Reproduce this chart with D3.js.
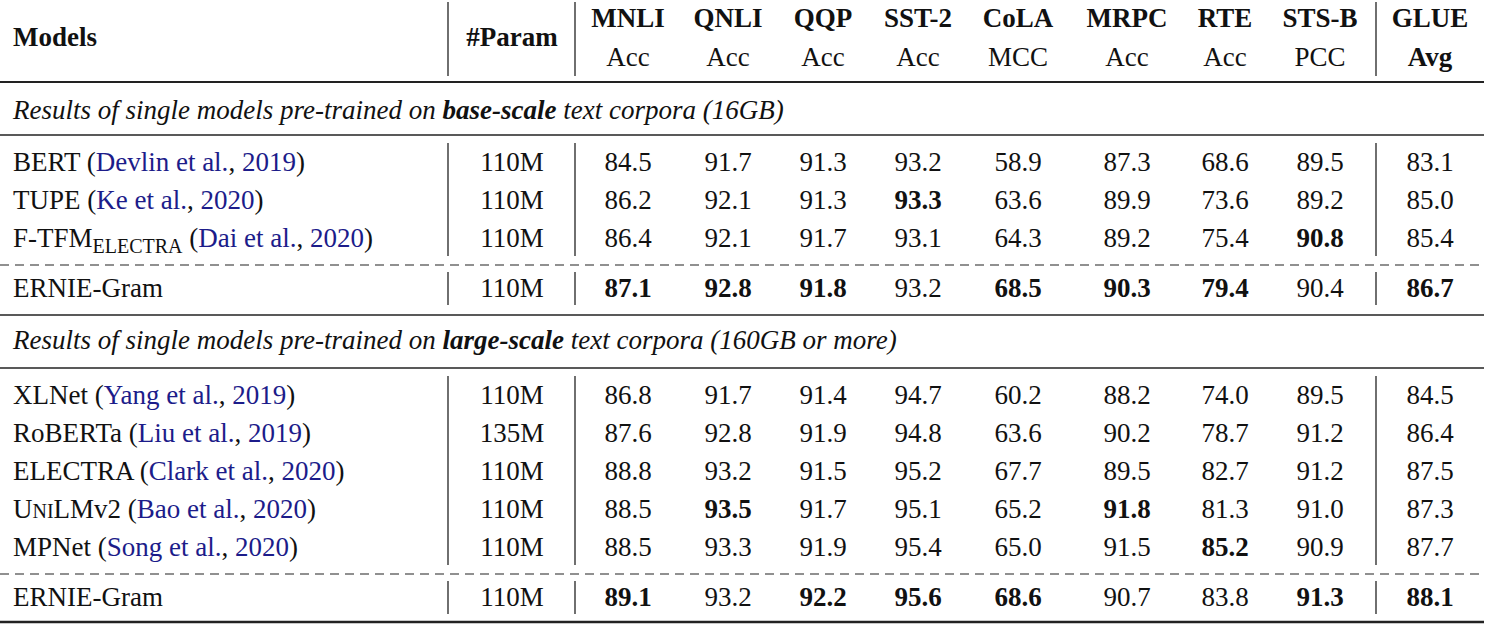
<!DOCTYPE html>
<html>
<head>
<meta charset="utf-8">
<script src="https://cdn.jsdelivr.net/npm/d3@7"></script>
<style>
  body { margin: 0; background: #fff; }
  svg, text, tspan { font-family: "Liberation Serif", "DejaVu Serif", serif; }
  text { font-size: 27px; fill: #111; }
</style>
</head>
<body>
<svg id="tbl" width="1488" height="627" font-family="Liberation Serif, DejaVu Serif, serif"></svg>
<script>
// column headers
const tasks = ["MNLI", "QNLI", "QQP", "SST-2", "CoLA", "MRPC", "RTE", "STS-B"];
const metrics = ["Acc", "Acc", "Acc", "Acc", "MCC", "Acc", "Acc", "PCC"];

// base-scale section
const baseModels = [
  { name: "BERT", cite: "Devlin et al., 2019" },
  { name: "TUPE", cite: "Ke et al., 2020" },
  { name: "F-TFM", sub: "ELECTRA", cite: "Dai et al., 2020" },
  { name: "ERNIE-Gram" }
];
const baseParams = ["110M", "110M", "110M", "110M"];
const baseScores = [
  [84.5, 91.7, 91.3, 93.2, 58.9, 87.3, 68.6, 89.5, 83.1],
  [86.2, 92.1, 91.3, 93.3, 63.6, 89.9, 73.6, 89.2, 85.0],
  [86.4, 92.1, 91.7, 93.1, 64.3, 89.2, 75.4, 90.8, 85.4],
  [87.1, 92.8, 91.8, 93.2, 68.5, 90.3, 79.4, 90.4, 86.7]
];
const baseBold = [[], [3], [7], [0, 1, 2, 4, 5, 6, 8]];

// large-scale section
const largeModels = [
  { name: "XLNet", cite: "Yang et al., 2019" },
  { name: "RoBERTa", cite: "Liu et al., 2019" },
  { name: "ELECTRA", cite: "Clark et al., 2020" },
  { name: "UniLMv2", smallcaps: true, cite: "Bao et al., 2020" },
  { name: "MPNet", cite: "Song et al., 2020" },
  { name: "ERNIE-Gram" }
];
const largeParams = ["110M", "135M", "110M", "110M", "110M", "110M"];
const largeScores = [
  [86.8, 91.7, 91.4, 94.7, 60.2, 88.2, 74.0, 89.5, 84.5],
  [87.6, 92.8, 91.9, 94.8, 63.6, 90.2, 78.7, 91.2, 86.4],
  [88.8, 93.2, 91.5, 95.2, 67.7, 89.5, 82.7, 91.2, 87.5],
  [88.5, 93.5, 91.7, 95.1, 65.2, 91.8, 81.3, 91.0, 87.3],
  [88.5, 93.3, 91.9, 95.4, 65.0, 91.5, 85.2, 90.9, 87.7],
  [89.1, 93.2, 92.2, 95.6, 68.6, 90.7, 83.8, 91.3, 88.1]
];
const largeBold = [[], [], [], [1, 5], [6], [0, 2, 3, 4, 7, 8]];

const svg = d3.select("#tbl");
const W = 1484;
const citeColor = "#1c1c8a";
const colCenters = [628, 728, 823, 918, 1018, 1127, 1225, 1320, 1430];
const cx = d3.scaleOrdinal().domain(d3.range(9)).range(colCenters);
const sep = [448, 575, 1376];
const pitch = 38;

function hline(y, w, dash) {
  svg.append("line").attr("x1", 0).attr("x2", W).attr("y1", y).attr("y2", y)
    .attr("stroke", "#222").attr("stroke-width", w).attr("stroke-dasharray", dash || null);
}
function vlines(y1, y2) {
  sep.forEach(x => svg.append("line").attr("x1", x).attr("x2", x).attr("y1", y1).attr("y2", y2)
    .attr("stroke", "#222").attr("stroke-width", 1.3));
}
function txt(x, y, s, anchor, weight) {
  return svg.append("text").attr("x", x).attr("y", y).attr("dy", "0.35em")
    .attr("font-family", "Liberation Serif, DejaVu Serif, serif")
    .attr("text-anchor", anchor || "middle").attr("font-weight", weight || null).text(s);
}

// header
txt(13, 37, "Models", "start", "bold");
txt(512, 37, "#Param", "middle", "bold");
tasks.forEach((t, i) => { txt(cx(i), 18, t, "middle", "bold"); txt(cx(i), 57, metrics[i]); });
txt(cx(8), 18, "GLUE", "middle", "bold");
txt(cx(8), 57, "Avg", "middle", "bold");
vlines(2, 76);
hline(82, 2);

function caption(y, pre, bold, post) {
  const t = svg.append("text").attr("x", 13).attr("y", y).attr("dy", "0.35em")
    .attr("font-family", "Liberation Serif, DejaVu Serif, serif").attr("font-style", "italic");
  t.append("tspan").text(pre);
  t.append("tspan").attr("font-weight", "bold").text(bold);
  t.append("tspan").text(post);
}

function modelCell(y, m) {
  const t = svg.append("text").attr("x", 13).attr("y", y).attr("dy", "0.35em")
    .attr("font-family", "Liberation Serif, DejaVu Serif, serif");
  if (m.smallcaps) {
    t.append("tspan").text("U");
    t.append("tspan").attr("font-size", "20px").text("NI");
    t.append("tspan").text("LMv2");
  } else {
    t.append("tspan").text(m.name);
  }
  if (m.sub) t.append("tspan").attr("font-size", "20px").attr("dy", "6").text(m.sub);
  if (m.cite) {
    const p = t.append("tspan").text(" (");
    if (m.sub) p.attr("dy", "-6");
    const parts = m.cite.split(", ");
    t.append("tspan").attr("fill", citeColor).text(parts[0]);
    t.append("tspan").text(", ");
    t.append("tspan").attr("fill", citeColor).text(parts[1]);
    t.append("tspan").text(")");
  }
}

function section(top, models, params, scores, bolds) {
  const rows = models.length;
  models.forEach((m, r) => {
    const y = r < rows - 1 ? top + 27 + r * pitch : top + 27 + (rows - 2) * pitch + 50;
    modelCell(y, m);
    txt(512, y, params[r]);
    scores[r].forEach((v, i) => txt(cx(i), y, v.toFixed(1), "middle", bolds[r].includes(i) ? "bold" : null));
  });
  const lastY = top + 27 + (rows - 2) * pitch;
  vlines(top + 8, lastY + 18);
  const dashY = lastY + 27;
  hline(dashY, 1.2, "9,6");
  vlines(dashY + 7, dashY + 40);
}

caption(110, "Results of single models pre-trained on ", "base-scale", " text corpora (16GB)");
hline(135, 1.5);
section(135, baseModels, baseParams, baseScores, baseBold);
hline(315, 1.5);
caption(340, "Results of single models pre-trained on ", "large-scale", " text corpora (160GB or more)");
hline(368, 1.5);
section(368, largeModels, largeParams, largeScores, largeBold);
hline(622, 2.5);
</script>
</body>
</html>
